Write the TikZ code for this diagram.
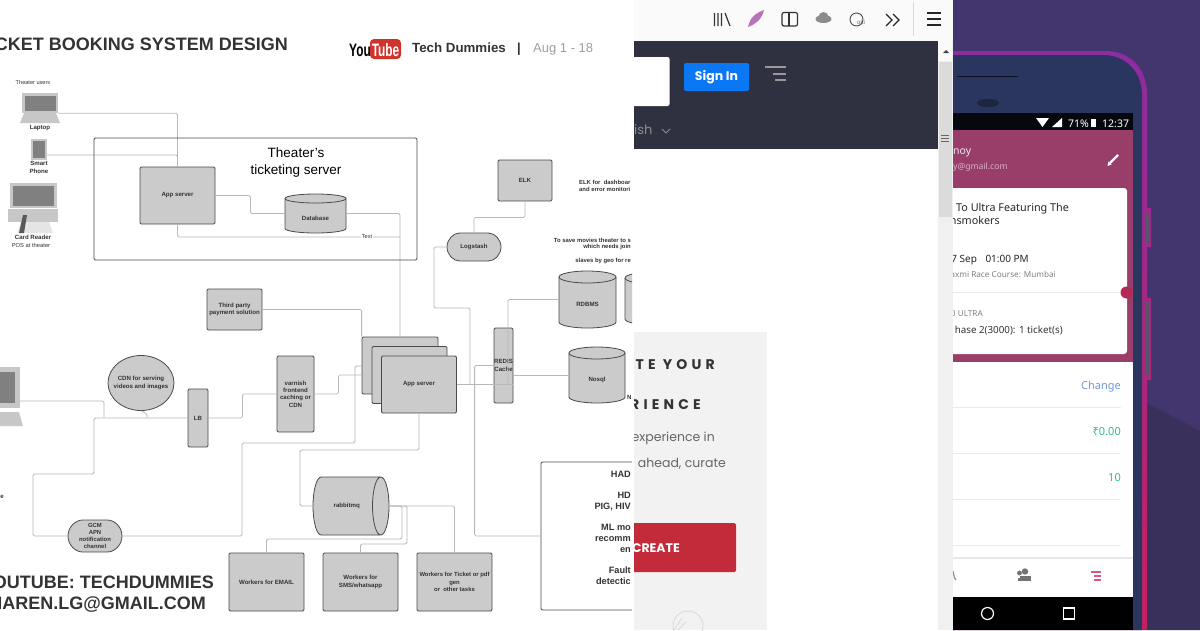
\documentclass[tikz,border=0pt]{standalone}
\usepackage{fontspec}
\setmainfont{Liberation Sans}
\newfontfamily\cardfont{Poppins}
\newfontfamily\cardspaced[LetterSpace=30]{Poppins}
\newfontfamily\phonefont{Noto Sans}
\usetikzlibrary{calc}
\usetikzlibrary{shapes.geometric, shapes.misc}

\definecolor{boxfill}{HTML}{CBCBCB}
\definecolor{boxline}{HTML}{4A4A4A}
\definecolor{wiregray}{HTML}{B8B8B8}
\definecolor{inktext}{HTML}{333333}
\definecolor{headdark}{HTML}{2F3140}
\definecolor{signblue}{HTML}{0A78F5}
\definecolor{cardgray}{HTML}{F2F2F2}
\definecolor{createred}{HTML}{C32A3A}
\definecolor{purplebg}{HTML}{43366E}
\definecolor{purpledark}{HTML}{3A305C}
\definecolor{navybody}{HTML}{2A3560}
\definecolor{plumhead}{HTML}{993E68}
\definecolor{greenfig}{HTML}{35B88C}
\definecolor{linkblue}{HTML}{6D9BE0}
\definecolor{edgetop}{HTML}{8E2CA0}
\definecolor{edgebot}{HTML}{C91F5F}
\definecolor{edgebtn}{HTML}{55566B}
\definecolor{dotred}{HTML}{B32A57}
\definecolor{ytred}{HTML}{CF332C}

\tikzset{
  wire/.style={draw=wiregray, line width=.8pt, rounded corners=1.5pt},
  lbl/.style={font=\fontsize{6.1}{7.3}\bfseries\selectfont, text=inktext, align=center, inner sep=0pt},
  bigtxt/.style={font=\fontsize{18}{20}\bfseries\selectfont, text=inktext, inner sep=0pt},
  graybox/.style={draw=boxline, fill=boxfill, rounded corners=1.2pt, line width=.8pt, lbl},
  cylbody/.style={draw=boxline, fill=boxfill, line width=.8pt},
  phonetxt/.style={inner sep=0pt, anchor=base west},
  rowline/.style={draw=black!8, line width=.7pt},
  device/.style={fill=black!22},
  devicedark/.style={fill=black!50},
}

% name, centre x, centre y, width, height, label
\newcommand{\cylnode}[7][6]{
  \begin{scope}[shift={(#3,#4)}]
    \draw[cylbody] ({-#5/2},{-#6/2+#1}) -- ({-#5/2},{#6/2-#1})
      arc[start angle=180, end angle=360, x radius=#5/2*1pt, y radius=#1pt]
      -- ({#5/2},{-#6/2+#1})
      arc[start angle=0, end angle=180, x radius=#5/2*1pt, y radius=#1pt] -- cycle;
    \draw[cylbody, fill=none] ({-#5/2},{-#6/2+#1})
      arc[start angle=180, end angle=360, x radius=#5/2*1pt, y radius=#1pt];
    \node[minimum width=#5pt, minimum height=#6pt, inner sep=0pt] (#2) at (0,0) {};
    \node[lbl] (#2lbl) at (0,4.5) {#7};
  \end{scope}
}

\begin{document}
\begin{tikzpicture}[x=1pt, y=-1pt]
  \useasboundingbox (0,0) rectangle (1200,630);
  \fill[white] (0,0) rectangle (1200,630);

  % left panel, the booking diagram
  \begin{scope}
    \clip (0,0) rectangle (632,630);

    \node[bigtxt, anchor=base east] (title) at (288,50) {CKET BOOKING SYSTEM DESIGN};
    \node[inner sep=0pt, xscale=.66, font=\fontsize{18}{18}\bfseries\selectfont] (youword) at (360,50) {You};
    \node[fill=ytred, rounded corners=4pt, minimum width=31pt, minimum height=20pt, inner sep=0pt] (youred) at (385.5,49) {};
    \node[inner sep=0pt, xscale=.66, text=white, font=\fontsize{18}{18}\bfseries\selectfont] (youtube) at (385.5,50) {Tube};
    \node[inner sep=0pt, anchor=base west, text=inktext, font=\fontsize{13.3}{14}\bfseries\selectfont] (channel) at (412,52) {Tech Dummies};
    \node[inner sep=0pt, anchor=base, text=inktext, font=\fontsize{13}{14}\bfseries\selectfont] (sepbar) at (519,52) {|};
    \node[inner sep=0pt, anchor=base west, text=black!38, font=\fontsize{13}{14}\selectfont] (dates) at (533,52) {Aug 1 - 18};

    % theater devices
    \node[lbl, font=\fontsize{5.6}{7}\selectfont] (theaterusers) at (33,82) {Theater users};
    \node[device, minimum width=36pt, minimum height=20pt, inner sep=0pt] (laptopa) at (40,103) {};
    \fill[devicedark] (25,96) rectangle (56,111);
    \fill[device] (24,113) -- (56,113) -- (60,123) -- (20,123) -- cycle;
    \node[lbl] (laptoplbl) at (40,128) {Laptop};
    \node[device, minimum width=16pt, minimum height=21pt, inner sep=0pt] (smartphone) at (39,149.5) {};
    \fill[devicedark] (33,141) rectangle (45,158);
    \coordinate (phoneport) at (47,155);
    \node[lbl] (phonelbl) at (39,167.5) {Smart\\Phone};
    \fill[device] (10,183) rectangle (57,208);
    \fill[devicedark] (13,186) rectangle (54,206);
    \fill[device] (8,209) rectangle (58,222);
    \fill[black!10] (21,222) -- (49,222) -- (53,233) -- (17,233) -- cycle;
    \fill[black!65] (23,215) -- (27,215) -- (24,233) -- (19,233) -- cycle;
    \node[lbl] (posa) at (33,237) {Card Reader};
    \node[lbl, font=\fontsize{5.8}{7}\selectfont] (posb) at (31,245) {POS at theater};

    % theater ticketing server
    \node[graybox, minimum width=75pt, minimum height=57pt] (tktapp) at (177.5,195.5) {App server};
    \cylnode[4.5]{tktdb}{315.5}{213.5}{61}{39}{Database}
    \node[inner sep=0pt, align=center, font=\fontsize{13.5}{16.5}\selectfont] (theatername) at (296,162.5) {Theater's\\ticketing server};

    % other boxes
    \node[graybox, minimum width=55pt, minimum height=41pt] (payment) at (234.5,309.5) {Third party\\payment solution};
    \node[graybox, minimum width=54pt, minimum height=41pt] (elk) at (525,180.5) {ELK};
    \node[graybox, rounded rectangle, minimum width=54pt, minimum height=28pt] (logstash) at (474,247) {Logstash};
    \node[draw=boxline, fill=boxfill, line width=.8pt, ellipse, inner sep=0pt, minimum width=66pt, minimum height=55pt] (cdn) at (141,383) {};
    \node[lbl] (cdnlbl) at (cdn.center) {CDN for serving\\videos and images};
    \node[graybox, minimum width=20pt, minimum height=58pt] (lb) at (198,418) {LB};
    \node[graybox, minimum width=37pt, minimum height=76pt] (varnish) at (295.5,394) {varnish\\frontend\\caching or\\CDN};
    \node[graybox, minimum width=76pt, minimum height=57pt] (appa) at (400,365.5) {};
    \node[graybox, minimum width=75pt, minimum height=57pt] (appb) at (409.5,375) {};
    \node[graybox, minimum width=75pt, minimum height=57pt] (appc) at (419,384.5) {App server};
    \node[graybox, minimum width=19pt, minimum height=75pt] (redis) at (503.5,365.5) {REDIS\\Cache};
    \cylnode{rdbms}{587.5}{299.5}{57}{57}{RDBMS}
    \cylnode{rdbmstwo}{653.5}{298.5}{57}{53}{}
    \cylnode{nosql}{597}{375}{56}{56}{Nosql}
    \node[graybox, rounded rectangle, minimum width=54pt, minimum height=32pt, font=\fontsize{5.9}{7}\bfseries\selectfont] (gcm) at (95,536) {GCM\\APN\\notification\\channel};
    \node[cylinder, shape aspect=2.9, draw=boxline, fill=boxfill, line width=.8pt, lbl, anchor=shape center, minimum width=58pt, minimum height=76pt] (rabbit) at (351,506) {rabbitmq};
    \node[graybox, minimum width=75pt, minimum height=58pt] (email) at (266.5,582) {Workers for EMAIL};
    \node[graybox, minimum width=75pt, minimum height=58pt] (sms) at (360.5,582) {Workers for\\SMS/whatsapp};
    \node[graybox, minimum width=75pt, minimum height=58pt, font=\fontsize{5.9}{7.2}\bfseries\selectfont] (ticket) at (454.5,582) {Workers for Ticket or pdf\\gen\\or \ other tasks};
    \node[draw=boxline, fill=white, line width=.8pt, rounded corners=1.2pt, minimum width=178pt, minimum height=148pt] (hadoop) at (630,536) {};

    % client laptop
    \node[device, minimum width=40pt, minimum height=41pt, inner sep=0pt] (laptopb) at (0,387.5) {};
    \fill[devicedark] (-20,372) rectangle (15,403);
    \fill[device] (-20,412) -- (19,412) -- (23,426) -- (-20,426) -- cycle;
    \coordinate (laptopport) at (20,401);
    \coordinate (clijoin) at (104,417.5);

    % wires
    \coordinate (dbjoin) at (400,237);
    \coordinate (appside) at (362,375);
    \coordinate (appback) at (362,366);
    \coordinate (lsbend) at (434,308);
    \coordinate (appout) at (470,384.5);
    \coordinate (redisout) at (513,384.5);
    \coordinate (redisdrop) at (508,384.5);
    \coordinate (gcmbend) at (94,474);
    \coordinate (gcmup) at (242,443);
    \coordinate (mqbend) at (300,450);
    \coordinate (emailbend) at (402,539);
    \coordinate (smsbend) at (407,544);
    \draw[wire] (laptopa.south east) -| (tktapp.north);
    \draw[wire] (phoneport) -| (tktapp.north);
    \draw[wire] (tktapp.east) -- ++(35,0) |- (tktdb.west);
    \draw[wire] (tktapp.south) |- (dbjoin);
    \draw[wire] (tktdb.east) -| (appa.north);
    \node[lbl, fill=white, inner xsep=1pt, font=\fontsize{5.6}{7}\selectfont] (textlbl) at (367,237) {Text};
    \draw[wire] (payment.east) -| (appa.north west);
    \draw[wire] (elk.south) -- ++(0,16) -| (logstash.north);
    \draw[wire] (logstash.west) -| (lsbend) -| (appout);
    \draw[wire] (appc.east) -- (redisout);
    \draw[wire] (nosql.west) -- (nosql.west -| redis.east);
    \draw[wire] (rdbms.west) -| (redisdrop);
    \draw[wire] (redis.west) -- ++(-19,0) |- (hadoop.west);
    \draw[wire] (laptopport) -| (clijoin);
    \draw[wire] (lb.west) -| (gcmbend) -- ++(-61,0) |- (gcm.west);
    \draw[wire] (gcm.east) -| (gcmup) -- ++(113,0) |- (appback);
    \draw[wire] (lb.east) -- ++(34,0) |- (varnish.west);
    \draw[wire] (varnish.east) -- ++(24,0) |- (appside);
    \draw[wire] (appc.south) |- (mqbend) |- (rabbit.west);
    \draw[wire] (cdn.south) -- ++(6,3) -- ++(0,4);
    \draw[wire] (rabbit.east) -| (ticket.north);
    \draw[wire] (rabbit.east) -| (emailbend) -| (email.north);
    \draw[wire] (rabbit.east) -| (smsbend) -| (sms.north);

    % theater frame
    \node[draw=boxline, line width=.9pt, rounded corners=1.2pt, minimum width=323pt, minimum height=122pt] (theaterbox) at (255.5,199) {};

    % notes
    \node[lbl, anchor=west, align=left, font=\fontsize{5.9}{7.6}\bfseries\selectfont] (elknote) at (579,186) {ELK for \ dashboar\\and error monitori};
    \node[lbl, anchor=east, font=\fontsize{5.9}{7}\bfseries\selectfont] (savea) at (631,240) {To save movies theater to s};
    \node[lbl, anchor=east, font=\fontsize{5.9}{7}\bfseries\selectfont] (saveb) at (631,247) {which needs join};
    \node[lbl, anchor=east, font=\fontsize{5.9}{7}\bfseries\selectfont] (savec) at (631,261) {slaves by geo for re};
    \node[lbl, anchor=west] (nosqlmark) at (627,397) {N};
    \node[lbl, anchor=east] (cutmark) at (4,497) {ue};
    \node[inner sep=0pt, anchor=east, align=right, text=inktext, font=\fontsize{9.2}{10.8}\bfseries\selectfont] (hadooptxt) at (631,528) {HAD\\[10.5pt]HD\\PIG, HIV\\[10.5pt]ML mo\\recomm\\en\\[10.5pt]Fault\\detectic};

    \node[bigtxt, anchor=base east] (ytline) at (214,588) {OUTUBE: TECHDUMMIES};
    \node[bigtxt, anchor=base east] (mailline) at (206,609) {NAREN.LG@GMAIL.COM};
  \end{scope}

  % browser toolbar
  \fill[black!2] (634,0) rectangle (953,41);
  \fill[headdark] (634,41) rectangle (938,149);
  \draw[black!15] (913,2) -- (913,36);
  \draw[black!80, line width=1.2pt] \foreach \x in {714.5,718,721.5} {(\x,13) -- (\x,26)} (725,13) -- (730,26);
  \fill[violet!55!white] (748,27) .. controls (750,17) and (756,13) .. (764,10) .. controls (762,19) and (756,24) .. (748,27) -- cycle;
  \draw[black!80, line width=1.2pt, rounded corners=2pt] (782,12.5) rectangle (797.5,26);
  \draw[black!80, line width=1.2pt] (789,12.5) -- (789,26);
  \fill[black!45] (823.5,19) ellipse[x radius=8, y radius=4];
  \fill[black!45] (823.5,17) ellipse[x radius=5, y radius=5];
  \draw[black!70, line width=.9pt] (856.5,19.5) circle[radius=6.5];
  \node[inner sep=0pt, font=\fontsize{6}{7}\selectfont, text=black!60] (oki) at (861,22) {oki};
  \draw[black!85, line width=1.3pt] (886,14) -- (892,20) -- (886,26) (893,14) -- (899,20) -- (893,26);
  \foreach \y in {13,19,25} {
    \draw[black!85, line width=1.4pt] (927,\y) -- (941,\y);
  }

  % browser header
  \node[fill=white, rounded corners=2pt, minimum width=45pt, minimum height=49pt, inner sep=0pt] (searchbox) at (647,81.5) {};
  \fill[white] (632,41) rectangle (634,149);
  \node[fill=signblue, rounded corners=2pt, minimum width=65pt, minimum height=28pt, inner sep=0pt, text=white, font=\cardfont\bfseries\fontsize{12.5}{15}\selectfont] (signin) at (716.5,77) {Sign In};
  \draw[black!40, line width=1.1pt] (765,67) -- (786,67) (773,74) -- (786,74) (775,80) -- (786,80);
  \node[inner sep=0pt, anchor=base west, text=black!45, font=\cardfont\fontsize{13}{15}\selectfont] (langtxt) at (634,134) {ish};
  \draw[black!45, line width=.8pt] (662,129) -- (666,133) -- (670,129);

  % scroll bar
  \fill[black!6] (938,41) rectangle (953,630);
  \fill[black!2] (938,41) rectangle (952,61);
  \fill[black!14] (939,62) rectangle (952,217);
  \fill[black!75] (943,53) -- (946,50) -- (949,53) -- cycle;
  \foreach \y in {135,138,141} {
    \draw[black!60, line width=.6pt] (941,\y) -- (949,\y);
  }

  % card in the browser
  \begin{scope}
    \clip (634,332) rectangle (767,630);
    \fill[cardgray] (634,332) rectangle (767,630);
    \node[inner sep=0pt, anchor=base east, text=black!80, font=\cardspaced\bfseries\fontsize{14}{16}\selectfont] (carda) at (715,369) {TE YOUR};
    \node[inner sep=0pt, anchor=base east, text=black!80, font=\cardspaced\bfseries\fontsize{14}{16}\selectfont] (cardb) at (701,409) {RIENCE};
    \node[inner sep=0pt, anchor=base east, text=black!60, font=\cardfont\fontsize{12.5}{15}\selectfont] (cardc) at (715,441) {experience in};
    \node[inner sep=0pt, anchor=base east, text=black!60, font=\cardfont\fontsize{12.5}{15}\selectfont] (cardd) at (726,467) {ahead, curate};
    \fill[createred, rounded corners=1.5pt] (630,523) rectangle (736,572);
    \node[inner sep=0pt, anchor=base east, text=white, font=\cardfont\bfseries\fontsize{12.5}{15}\selectfont] (createbtn) at (680,552) {CREATE};
    \draw[black!6] (640,596) -- (735,596);
    \draw[black!15, line width=.8pt] (688,626) circle[radius=15];
    \draw[black!15, line width=.8pt] (674,630) -- (682,618) (678,630) -- (686,622);
  \end{scope}

  % right panel, the phone
  \begin{scope}
    \clip (953,0) rectangle (1200,630);
    \fill[purplebg] (953,0) rectangle (1200,630);
    \fill[purpledark] (1147,403) -- (1200,431) -- (1200,630) -- (1147,630) -- cycle;
    \shade[top color=edgetop, bottom color=edgebot]
      (940,51) -- (1105,51) .. controls (1130,51) and (1147,68) .. (1147,95)
      -- (1147,208) -- (1151,208) -- (1151,247) -- (1147,247) -- (1147,298) -- (1151,298)
      -- (1151,380) -- (1147,380) -- (1147,630) -- (940,630) -- cycle;
    \fill[edgebtn] (1146,213) rectangle (1149,243);
    \fill[edgebtn] (1146,302) rectangle (1149,376);
    \fill[navybody] (940,55) -- (1103,55) .. controls (1126,55) and (1142,72) .. (1142,95) -- (1142,630) -- (940,630) -- cycle;
    \draw[black!70!navybody, line width=1pt] (957,76) -- (1018,76);
    \fill[black!30!navybody] (988,103) ellipse[x radius=11, y radius=4];

    % screen
    \fill[black!85!navybody] (940,113) rectangle (1133,130);
    \fill[plumhead] (940,130) rectangle (1133,362);
    \fill[white] (940,362) rectangle (1133,597);
    \fill[black] (940,597) rectangle (1133,630);

    % status bar
    \fill[white] (1036,118) -- (1049,118) -- (1042.5,127) -- cycle;
    \fill[white] (1052,127) -- (1062,118) -- (1062,127) -- cycle;
    \node[phonetxt, text=white, font=\phonefont\fontsize{10.5}{12}\selectfont] (battpct) at (1068,127) {71\%};
    \fill[white] (1090.5,119) rectangle (1096,127);
    \node[phonetxt, text=white, font=\phonefont\fontsize{10.5}{12}\selectfont] (clock) at (1102,127) {12:37};

    % header of the screen
    \node[phonetxt, text=black!8, font=\phonefont\fontsize{10.5}{12}\selectfont] (username) at (953,154) {noy};
    \node[phonetxt, text=white!60!plumhead, font=\phonefont\fontsize{8.6}{10}\selectfont] (usermail) at (953,169) {y@gmail.com};
    \draw[white, line width=2.4pt] (1110,163) -- (1118,155);
    \fill[white] (1107.5,166) -- (1108.5,161.5) -- (1111.5,164.5) -- cycle;

    % booking card
    \fill[white, rounded corners=3pt] (930,188) rectangle (1127,354);
    \node[phonetxt, text=black!85, font=\phonefont\fontsize{10.8}{13}\selectfont] (eventa) at (956,211) {To Ultra Featuring The};
    \node[phonetxt, text=black!85, anchor=base east, font=\phonefont\fontsize{10.8}{13}\selectfont] (eventb) at (1000,224) {nsmokers};
    \node[phonetxt, text=black!85, anchor=base east, font=\phonefont\fontsize{10}{12}\selectfont] (eventc) at (1029,262) {7 Sep \,\, 01:00 PM};
    \node[phonetxt, text=black!50, anchor=base east, font=\phonefont\fontsize{8.2}{10}\selectfont] (eventd) at (1056,277) {axmi Race Course: Mumbai};
    \draw[rowline] (940,292.5) -- (1120,292.5);
    \fill[dotred] (1126.5,292.5) circle[radius=6];
    \node[phonetxt, text=black!50, anchor=base east, font=\phonefont\fontsize{8.2}{10}\selectfont] (eventf) at (983,316) {0 ULTRA};
    \node[phonetxt, text=black!80, anchor=base east, font=\phonefont\fontsize{9.8}{12}\selectfont] (eventg) at (1063,333) {hase 2(3000): 1 ticket(s)};

    % rows under the card
    \foreach \y in {407,453,499,545} {
      \draw[rowline] (940,\y) -- (1121,\y);
    }
    \draw[black!9, line width=1.2pt] (940,558) -- (1133,558);
    \node[phonetxt, text=linkblue, anchor=base east, font=\phonefont\fontsize{11}{13}\selectfont] (changelnk) at (1121,389.5) {Change};
    \node[phonetxt, text=greenfig, anchor=base east, font=\phonefont\bfseries\fontsize{11}{13}\selectfont] (amount) at (1121,435) {₹0.00};
    \node[phonetxt, text=greenfig, anchor=base east, font=\phonefont\bfseries\fontsize{11}{13}\selectfont] (points) at (1121,481.5) {10};

    % bottom bar icons
    \draw[black!45, line width=1.2pt] (953,571) -- (954.5,578) -- (956,580);
    \fill[black!55] (1025,571.5) circle[radius=3.2];
    \fill[black!55] (1019.5,573) circle[radius=2.4];
    \fill[black!55] (1019.5,576) rectangle (1031,581);
    \fill[black!55] (1018,578) rectangle (1022,581);
    \draw[edgebot!75, line width=1.2pt] (1091,572) -- (1101,572) (1094,576) -- (1101,576) (1094,580) -- (1101,580);
    \draw[white, line width=1.2pt] (987.5,613.5) circle[radius=6];
    \draw[white, line width=1.2pt] (1063.5,608) rectangle (1074.5,619);
  \end{scope}

\end{tikzpicture}
\end{document}
